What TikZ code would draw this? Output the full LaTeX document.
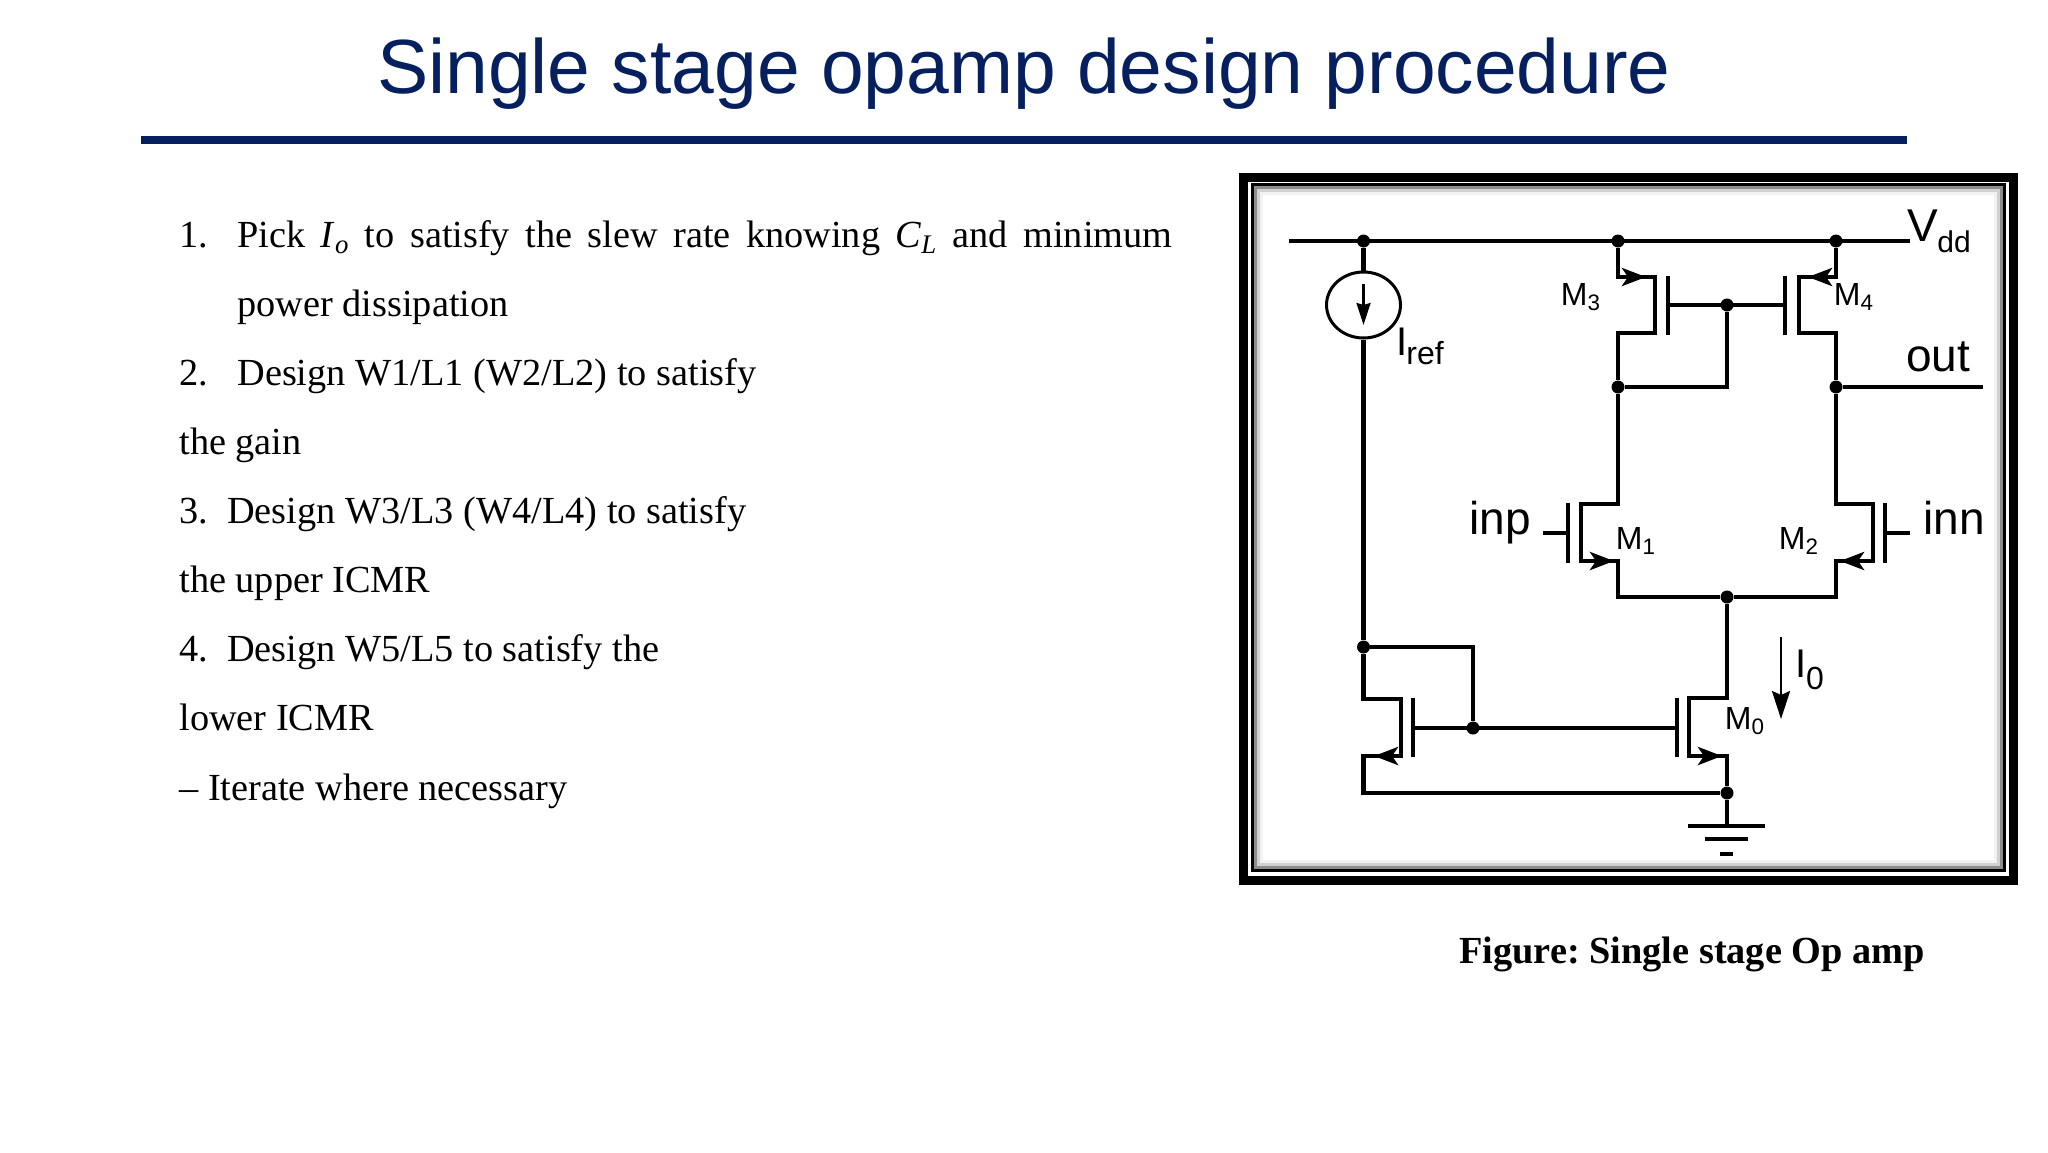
\documentclass[tikz,border=0pt]{standalone}
\usepackage{fontspec}
\setmainfont{Liberation Serif}
\setsansfont{Liberation Sans}
\usepackage{amsmath}
\usetikzlibrary{arrows.meta, shapes.geometric}
\definecolor{navy}{HTML}{06205F}
\tikzstyle{wire} = [draw, line width=2.2pt]
\tikzstyle{thinwire} = [draw, line width=1.7pt]
\tikzstyle{fet} = [wire, -{Stealth[length=12pt,width=9pt,inset=3pt]}]
\tikzstyle{dot} = [circle, fill=black, inner sep=0pt, minimum size=6.5pt]
\tikzstyle{lbl} = [font=\sffamily\fontsize{16}{16}\selectfont, inner sep=0pt]
\tikzstyle{biglbl} = [font=\sffamily\fontsize{23}{23}\selectfont, inner sep=0pt, anchor=base]
\tikzstyle{mlbl} = [font=\sffamily\fontsize{16}{16}\selectfont, inner sep=0pt]
\tikzstyle{item} = [font=\fontsize{19.15}{19.15}\selectfont, anchor=base west, inner sep=0pt]
\begin{document}
\frenchspacing
\begin{tikzpicture}[x=0.5pt, y=-0.5pt]
	\useasboundingbox (0,0) rectangle (2048,1152);
	\node [font=\sffamily\fontsize{38.4}{38.4}\selectfont, text=navy, inner sep=0pt] (title) at (1024,74) {Single stage opamp design procedure};
	\coordinate (ruleL) at (141,139.5);
	\coordinate (ruleR) at (1907,139.5);
	\draw [line width=4pt, navy] (ruleL) -- (ruleR);

	% text on the left
	\node [item] (t1) at (179,247.5) {1.};
	\node [item] (t1b) at (237,247.5) {\makebox[467.5pt][s]{Pick \textit{I}$_{\text{\textit{o}}}$ to satisfy the slew rate knowing \textit{C}$_{\text{\textit{L}}}$ and minimum}};
	\node [item] (t1c) at (237,316.5) {power dissipation};
	\node [item] (t2) at (179,385.5) {2.};
	\node [item] (t2b) at (237,385.5) {Design W1/L1 (W2/L2) to satisfy};
	\node [item] (t2c) at (179,454.5) {the gain};
	\node [item] (t3) at (179,523.5) {3.\ \ Design W3/L3 (W4/L4) to satisfy};
	\node [item] (t3c) at (179,592.5) {the upper ICMR};
	\node [item] (t4) at (179,661.5) {4.\ \ Design W5/L5 to satisfy the};
	\node [item] (t4c) at (179,730.5) {lower ICMR};
	\node [item] (t5) at (179,800) {-- Iterate where necessary};
	\node [font=\bfseries\fontsize{19.15}{19.15}\selectfont, inner sep=0pt] (caption) at (1692,954) {Figure: Single stage Op amp};

	% frame
	\draw [line width=4.5pt] (1243,177) rectangle (2013,880);
	\draw [line width=1.5pt] (1252.5,184.5) rectangle (2004,870.5);
	\draw [line width=1.5pt, black!45] (1255.5,187.5) rectangle (2001,867.5);
	\draw [line width=1.5pt, black!18] (1258.5,190.5) rectangle (1998,864.5);
	\draw [line width=1.5pt, black!5] (1261.5,193.5) rectangle (1995,861.5);

	% rails
	\coordinate (vddL) at (1289,241);
	\node [dot] (n0) at (1363.5,241) {};
	\node [dot] (n3) at (1618,241) {};
	\node [dot] (n4) at (1836,241) {};
	\coordinate (vddR) at (1910,241);
	\path [thinwire] (vddL) -- (vddR);
	\node [lbl, font=\sffamily\fontsize{23}{23}\selectfont] (vdd) at (1923,226) {V};
	\node [mlbl, font=\sffamily\fontsize{15}{15}\selectfont] (dd) at (1954,242) {dd};

	% current source
	\node [draw, ellipse, line width=1.5pt, minimum width=37pt, minimum height=33pt, inner sep=0pt] (iref) at (1363.5,305) {};
	\coordinate (irefT) at (1363.5,284);
	\coordinate (irefB) at (1363.5,325);
	\draw [line width=1.2pt, -{Stealth[length=11pt,width=7pt,inset=1pt]}] (irefT) -- (irefB);
	\path [wire] (n0) -- (iref);
	\node [lbl, font=\sffamily\fontsize{20}{20}\selectfont] (I) at (1402,342) {I};
	\node [lbl] (ref) at (1425,353) {ref};

	% M3 and M4
	\coordinate (m3s) at (1618,277);
	\coordinate (m3c) at (1655,277);
	\coordinate (m3d) at (1655,333);
	\coordinate (m3o) at (1618,333);
	\coordinate (m4s) at (1836,277);
	\coordinate (m4c) at (1799,277);
	\coordinate (m4d) at (1799,333);
	\coordinate (m4o) at (1836,333);
	\node [dot] (n1) at (1618,387) {};
	\node [dot] (n2) at (1836,387) {};
	\node [dot] (g34) at (1727,305) {};
	\coordinate (g3) at (1668,305);
	\coordinate (g4) at (1785,305);
	\path [wire] (n3) -- (m3s) -- (m3c) -- (m3d) -- (m3o) -- (n1);
	\path [wire] (n4) -- (m4s) -- (m4c) -- (m4d) -- (m4o) -- (n2);
	\path [fet] (m3s) -- (1646,277);
	\path [fet] (m4s) -- (1808,277);
	\path [wire] (1668,276) -- (1668,335);
	\path [wire] (1785,276) -- (1785,335);
	\path [thinwire] (g3) -- (g4);
	\path [wire] (g34) |- (n1);
	\coordinate (outR) at (1983,387);
	\path [thinwire] (n2) -- (outR);
	\node [biglbl] (out) at (1938,371) {out};
	\node [mlbl] (M3) at (1581,297) {M$_{\text{3}}$};
	\node [mlbl] (M4) at (1854,297) {M$_{\text{4}}$};

	% M1 and M2
	\coordinate (m1d) at (1618,504);
	\coordinate (m1c) at (1581,504);
	\coordinate (m1e) at (1581,561);
	\coordinate (m1s) at (1618,561);
	\coordinate (m2d) at (1836,504);
	\coordinate (m2c) at (1873,504);
	\coordinate (m2e) at (1873,561);
	\coordinate (m2s) at (1836,561);
	\node [dot] (tail) at (1727,597) {};
	\path [wire] (n1) -- (m1d) -- (m1c) -- (m1e) -- (m1s) |- (tail);
	\path [wire] (n2) -- (m2d) -- (m2c) -- (m2e) -- (m2s) |- (tail);
	\path [fet] (m1e) -- (1614,561);
	\path [fet] (m2e) -- (1840,561);
	\path [wire] (1568,503) -- (1568,563);
	\path [wire] (1885,503) -- (1885,563);
	\coordinate (inpw) at (1543,533);
	\coordinate (innw) at (1910,533);
	\path [thinwire] (inpw) -- (1568,533);
	\path [thinwire] (innw) -- (1885,533);
	\node [biglbl] (inp) at (1500,534) {inp};
	\node [biglbl] (inn) at (1954,534) {inn};
	\node [mlbl] (M1) at (1636,541) {M$_{\text{1}}$};
	\node [mlbl] (M2) at (1799,541) {M$_{\text{2}}$};

	% M0 and mirror
	\coordinate (m0d) at (1727,698);
	\coordinate (m0c) at (1689,698);
	\coordinate (m0e) at (1689,756);
	\coordinate (m0s) at (1727,756);
	\node [dot] (gnd) at (1727,793) {};
	\path [wire] (tail) -- (m0d) -- (m0c) -- (m0e) -- (m0s) -- (gnd);
	\path [fet] (m0e) -- (1722,756);
	\path [wire] (1677,698) -- (1677,757);
	\node [dot] (n5) at (1363.5,647) {};
	\node [dot] (g5) at (1473,728) {};
	\coordinate (m5d) at (1401,699);
	\coordinate (m5e) at (1401,756);
	\coordinate (m5s) at (1363.5,756);
	\coordinate (m5o) at (1363.5,793);
	\path [wire] (iref) -- (n5) |- (m5d) -- (m5e) -- (m5s) -- (m5o) -- (gnd);
	\path [fet] (m5e) -- (1374,756);
	\path [wire] (1413,698) -- (1413,757);
	\path [wire] (n5) -| (g5);
	\path [thinwire] (1413,728) -- (1677,728);
	\node [mlbl] (M0) at (1745,721) {M$_{\text{0}}$};

	% ground
	\coordinate (gnd1) at (1727,826);
	\path [wire] (gnd) -- (gnd1);
	\path [thinwire] (1688,826) -- (1765,826);
	\path [thinwire] (1705,839) -- (1748,839);
	\path [thinwire] (1720,854) -- (1733,854);

	% bias current
	\coordinate (i0T) at (1781,637);
	\coordinate (i0B) at (1781,719);
	\draw [line width=1.2pt, -{Stealth[length=14pt,width=9pt,inset=2pt]}] (i0T) -- (i0B);
	\node [lbl, font=\sffamily\fontsize{20}{20}\selectfont] (I0) at (1801,664) {I};
	\node [lbl] (I0s) at (1815,678) {0};
\end{tikzpicture}
\end{document}
